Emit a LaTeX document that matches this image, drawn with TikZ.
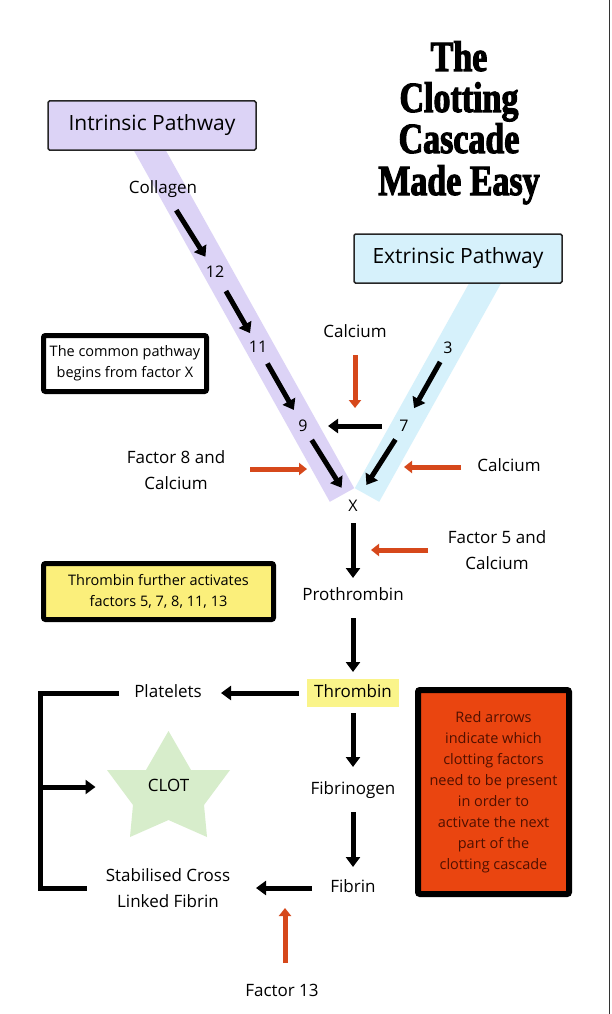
\documentclass[tikz,border=0pt]{standalone}
\usepackage{fontspec}
\setmainfont{Open Sans}
\newfontfamily\titlefont{Liberation Serif}[FakeStretch=0.79,BoldFeatures={FakeBold=2.5}]
\usetikzlibrary{arrows.meta}
\definecolor{lav}{HTML}{DCD3F6}
\definecolor{cyanl}{HTML}{D6F1FB}
\definecolor{redc}{HTML}{D6481B}
\definecolor{redbox}{HTML}{EA4510}
\definecolor{redtext}{HTML}{501000}
\definecolor{yel}{HTML}{FBEF7B}
\definecolor{yelthr}{HTML}{FAF48A}
\definecolor{stargreen}{HTML}{D7EDCB}
\begin{document}
\begin{tikzpicture}[x=1pt,y=-1pt,
  lbl/.style={inner sep=0pt, font=\fontsize{17}{26}\selectfont, text height=12.5pt, text depth=3.5pt},
  lbltwo/.style={inner sep=0pt, font=\fontsize{17}{26}\selectfont, align=center},
  num/.style={inner sep=0pt, font=\fontsize{16}{20}\selectfont, text height=11.5pt, text depth=0pt},
  titletext/.style={inner sep=0pt, anchor=base, text height=29pt, text depth=3pt, font=\titlefont\bfseries\fontsize{43}{43}\selectfont},
  pathbox/.style={draw=black!85, line width=1.5pt, rounded corners=1.5pt, minimum width=208pt, minimum height=49pt, inner sep=0pt, font=\fontsize{21}{24}\selectfont},
  notebox/.style={draw=black, line width=5pt, rounded corners=2pt, inner sep=0pt, align=center, font=\fontsize{14.5}{21}\selectfont},
  blk/.style={draw=black, line width=5pt, -{Triangle[length=10pt,width=14pt]}},
  redarr/.style={draw=redc, line width=5pt, -{Triangle[length=8pt,width=12pt]}},
  bracket/.style={draw=black, line width=5pt, line join=miter}
]
\useasboundingbox (0,0) rectangle (612,1014);
\fill[white] (0,0) rectangle (612,1014);
\draw[line width=1.5pt, black!80] (609.5,0) -- (609.5,1014);

% pathway bands
\fill[lav] (156.2,133.2) -- (354.2,488.2) -- (329.8,501.8) -- (131.8,146.8) -- cycle;
\fill[cyanl] (477.5,268.2) -- (354.8,488.2) -- (379.2,501.8) -- (501.9,281.8) -- cycle;

% title
\node[titletext] (title1) at (459,71) {The};
\node[titletext] (title2) at (459,112) {Clotting};
\node[titletext] (title3) at (459,153) {Cascade};
\node[titletext] (title4) at (459,195) {Made Easy};

% pathway boxes
\node[pathbox, fill=lav] (intr) at (152,125.5) {Intrinsic Pathway};
\node[pathbox, fill=cyanl] (extr) at (458,258.5) {Extrinsic Pathway};

% factor labels
\node[lbl] (coll) at (163,189) {Collagen};
\node[num] (f12) at (215,272) {12};
\node[num] (f11) at (258,347) {11};
\node[num] (f9) at (303,426) {9};
\node[num] (f3) at (448,348) {3};
\node[num] (f7) at (404,426) {7};
\node[num] (fx) at (353,506) {X};

\draw[blk, shorten <=25pt, shorten >=18pt] (coll.center) -- (f12.center);
\draw[blk, shorten <=22pt, shorten >=16pt] (f12.center) -- (f11.center);
\draw[blk, shorten <=19pt, shorten >=18.5pt] (f11.center) -- (f9.center);
\draw[blk, shorten <=16.5pt, shorten >=21.5pt] (f9.center) -- (fx.center);
\draw[blk, shorten <=16pt, shorten >=20.5pt] (f3.center) -- (f7.center);
\draw[blk, shorten <=16pt, shorten >=25pt] (f7.center) -- (fx.center);
\draw[blk, shorten <=22pt, shorten >=25pt] (f7.center) -- (f9.center);

% red cofactor arrows
\node[lbl] (catop) at (355,333) {Calcium};
\coordinate (catip) at (355,408);
\draw[redarr, shorten <=22pt] (catop.center) -- (catip);

\node[lbltwo] (f8) at (176,470) {Factor 8 and\\Calcium};
\coordinate (f8tip) at (307,469);
\draw[redarr, shorten <=74pt] (f8.center |- f8tip) -- (f8tip);

\node[lbl] (car) at (509,467) {Calcium};
\coordinate (cartip) at (404,467);
\draw[redarr, shorten <=48pt] (car.center) -- (cartip);

\node[lbltwo] (f5) at (497,550) {Factor 5 and\\Calcium};
\coordinate (f5tip) at (371,550);
\draw[redarr, shorten <=69pt] (f5.center) -- (f5tip);

% info boxes
\node[notebox, fill=white, minimum width=163pt, minimum height=56pt] (common) at (125,363.5) {The common pathway\\begins from factor X};
\node[notebox, fill=yel, minimum width=230pt, minimum height=56pt] (further) at (158.5,591.5) {Thrombin further activates\\factors 5, 7, 8, 11, 13};

% common pathway
\node[lbl] (pro) at (353,596) {Prothrombin};
\node[lbl, fill=yelthr, minimum width=92pt, minimum height=28pt] (thr) at (353,693) {Thrombin};
\node[lbl] (fbg) at (353,790) {Fibrinogen};
\node[lbl] (fib) at (353,888) {Fibrin};
\node[lbl] (plat) at (168,693) {Platelets};
\node[lbltwo] (stab) at (168,888) {Stabilised Cross\\Linked Fibrin};

\draw[blk, shorten <=17pt, shorten >=18pt] (fx.center) -- (pro.center);
\draw[blk, shorten <=22pt, shorten >=21pt] (pro.center) -- (thr.center);
\draw[blk, shorten <=20pt, shorten >=23pt] (thr.center) -- (fbg.center);
\draw[blk, shorten <=22pt, shorten >=21pt] (fbg.center) -- (fib.center);
\draw[blk, shorten <=54pt, shorten >=53pt] (thr.center) -- (plat.center);
\draw[blk, shorten <=41pt, shorten >=88pt] (fib.center) -- (stab.center);

% clot star
\fill[stargreen] (168.5,731) -- (191,770) -- (230,770) -- (204,805) -- (207,837) -- (168.5,820) -- (130,837) -- (133,805) -- (107,770) -- (146,770) -- cycle;
\node[lbl] (clot) at (168.5,787) {CLOT};

% bracket
\coordinate (bl) at (40,787);
\draw[bracket, shorten <=49pt, shorten >=81pt] (plat.center) -| (bl) |- (stab.center);
\draw[blk, shorten >=73pt] (bl) -- (clot.center);

% factor 13
\node[lbl] (f13) at (282,992) {Factor 13};
\coordinate (f13tip) at (285,908);
\draw[redarr, shorten <=29pt] (f13tip |- f13.center) -- (f13tip);

% legend
\node[notebox, draw=black, line width=6pt, fill=redbox, text=redtext, minimum width=151pt, minimum height=204pt] (legend) at (493.5,792) {Red arrows\\indicate which\\clotting factors\\need to be present\\in order to\\activate the next\\part of the\\clotting cascade};
\end{tikzpicture}
\end{document}
